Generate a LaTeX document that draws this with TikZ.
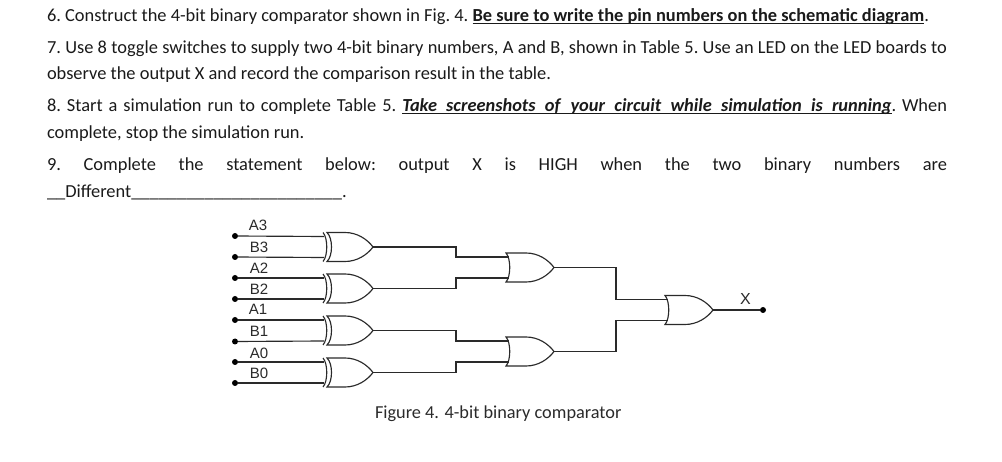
\documentclass[tikz,border=0pt]{standalone}
\usepackage{fontspec}
\setmainfont{Carlito}
\newfontfamily\figfont{Liberation Sans}
\usetikzlibrary{calc}
\definecolor{ink}{HTML}{1A1A1A}
\definecolor{wirecol}{HTML}{2A2A2A}
\newcommand{\jline}[1]{\parbox[b]{900pt}{\frenchspacing\parfillskip=0pt\relax #1}}
\newsavebox{\ulbox}
\newcommand{\ulw}[1]{\sbox{\ulbox}{#1}\rlap{\vrule height -1.4pt depth 2.5pt width \wd\ulbox}\usebox{\ulbox}}
\newcommand{\ulsp}{\leaders\hrule height -1.4pt depth 2.5pt\hskip 4pt plus 6pt minus 2pt\relax}
\tikzset{
  x=1pt,y=-1pt,
  wire/.style={draw=wirecol,line width=1.15pt,line join=miter},
  txt/.style={anchor=base west,inner sep=0pt,outer sep=0pt,text=ink,font=\fontsize{18.4}{20}\selectfont},
  siglabel/.style={inner sep=0pt,outer sep=0pt,text=wirecol,font=\figfont\fontsize{15}{18}\selectfont},
  caption/.style={anchor=base west,inner sep=0pt,outer sep=0pt,text=wirecol,font=\fontsize{18.3}{20}\selectfont},
  dotnode/.style={circle,fill=black,draw=none,minimum size=6pt,inner sep=0pt},
  orgate/.pic={
    \draw[wire] (0,-14.5) .. controls (5,-9) and (5,9) .. (0,14.5)
      -- (20,14.5) .. controls (32,14.5) and (42,8) .. (48,0)
      .. controls (42,-8) and (32,-14.5) .. (20,-14.5) -- cycle;
    \coordinate (-a) at (3,-10.5);
    \coordinate (-b) at (3,10.5);
    \coordinate (-o) at (48,0);
  },
  xorgate/.pic={
    \draw[wire] (0,-14.5) .. controls (5,-9) and (5,9) .. (0,14.5);
    \draw[wire] (4,-14.5) .. controls (10,-9) and (10,9) .. (4,14.5)
      -- (22,14.5) .. controls (34,14.5) and (44,8) .. (50,0)
      .. controls (44,-8) and (34,-14.5) .. (22,-14.5) -- cycle;
    \coordinate (-a) at (1,-10.5);
    \coordinate (-b) at (1,10.5);
    \coordinate (-o) at (50,0);
  }
}
\begin{document}
\begin{tikzpicture}
\useasboundingbox (0,0) rectangle (1002,462);
% text
\node[txt] (l1) at (47,22) {\frenchspacing 6. Construct the 4-bit binary comparator shown in Fig. 4. \ulw{\textbf{Be sure to write the pin numbers on the schematic diagram}}.};
\node[txt] (l2) at (47,54) {\jline{7. Use 8 toggle switches to supply two 4-bit binary numbers, A and B, shown in Table 5. Use an LED on the LED boards to}};
\node[txt] (l3) at (47,80) {observe the output X and record the comparison result in the table.};
\node[txt] (l4) at (47,112) {\jline{8. Start a simulation run to complete Table 5. \ulw{\textbf{\textit{Take}}}\ulsp\ulw{\textbf{\textit{screenshots}}}\ulsp\ulw{\textbf{\textit{of}}}\ulsp\ulw{\textbf{\textit{your}}}\ulsp\ulw{\textbf{\textit{circuit}}}\ulsp\ulw{\textbf{\textit{while}}}\ulsp\ulw{\textbf{\textit{simulation}}}\ulsp\ulw{\textbf{\textit{is}}}\ulsp\ulw{\textbf{\textit{running}}}. When}};
\node[txt] (l5) at (47,139) {complete, stop the simulation run.};
\node[txt] (l6) at (47,171) {\jline{9. Complete the statement below: output X is HIGH when the two binary numbers are}};
\node[txt] (l7) at (47,198) {\_\_Different\_\_\_\_\_\_\_\_\_\_\_\_\_\_\_\_\_\_\_\_\_\_\_.};
% gates
\pic (x3) at (323,247) {xorgate};
\pic (x2) at (323,288.5) {xorgate};
\pic (x1) at (323,330.5) {xorgate};
\pic (x0) at (323,372.5) {xorgate};
\pic (o1) at (506,267.5) {orgate};
\pic (o0) at (506,351.5) {orgate};
\pic (o2) at (665,310) {orgate};
% terminals
\node[dotnode] (ta3) at (235,236) {};
\node[dotnode] (tb3) at (235,257) {};
\node[dotnode] (ta2) at (235,278) {};
\node[dotnode] (tb2) at (235,299) {};
\node[dotnode] (ta1) at (235,320) {};
\node[dotnode] (tb1) at (235,341.5) {};
\node[dotnode] (ta0) at (235,362) {};
\node[dotnode] (tb0) at (235,383) {};
\node[dotnode] (tx) at (763,310) {};
% labels
\node[siglabel] (la3) at (258,225) {A3};
\node[siglabel] (lb3) at (259,247) {B3};
\node[siglabel] (la2) at (259,268) {A2};
\node[siglabel] (lb2) at (259,289) {B2};
\node[siglabel] (la1) at (258,309.5) {A1};
\node[siglabel] (lb1) at (259,331) {B1};
\node[siglabel] (la0) at (259,353) {A0};
\node[siglabel] (lb0) at (259,373) {B0};
\node[siglabel,font=\figfont\fontsize{16}{18}\selectfont] (lx) at (745.5,299) {X};
\node[caption] (cap) at (375,419) {Figure 4. 4-bit binary comparator};
% input wires
\foreach \b in {3,2,1,0}{
  \draw[wire] (ta\b) -- (x\b-a);
  \draw[wire] (tb\b) -- (x\b-b);
}
% junction columns
\coordinate (j1) at (456,0);
\coordinate (j2) at (616,0);
\draw[wire] (x3-o) -- (x3-o -| j1) -- (o1-a -| j1) -- (o1-a);
\draw[wire] (x2-o) -- (x2-o -| j1) -- (o1-b -| j1) -- (o1-b);
\draw[wire] (x1-o) -- (x1-o -| j1) -- (o0-a -| j1) -- (o0-a);
\draw[wire] (x0-o) -- (x0-o -| j1) -- (o0-b -| j1) -- (o0-b);
\draw[wire] (o1-o) -- (o1-o -| j2) -- (o2-a -| j2) -- (o2-a);
\draw[wire] (o0-o) -- (o0-o -| j2) -- (o2-b -| j2) -- (o2-b);
\draw[wire] (o2-o) -- (tx);
\end{tikzpicture}
\end{document}
